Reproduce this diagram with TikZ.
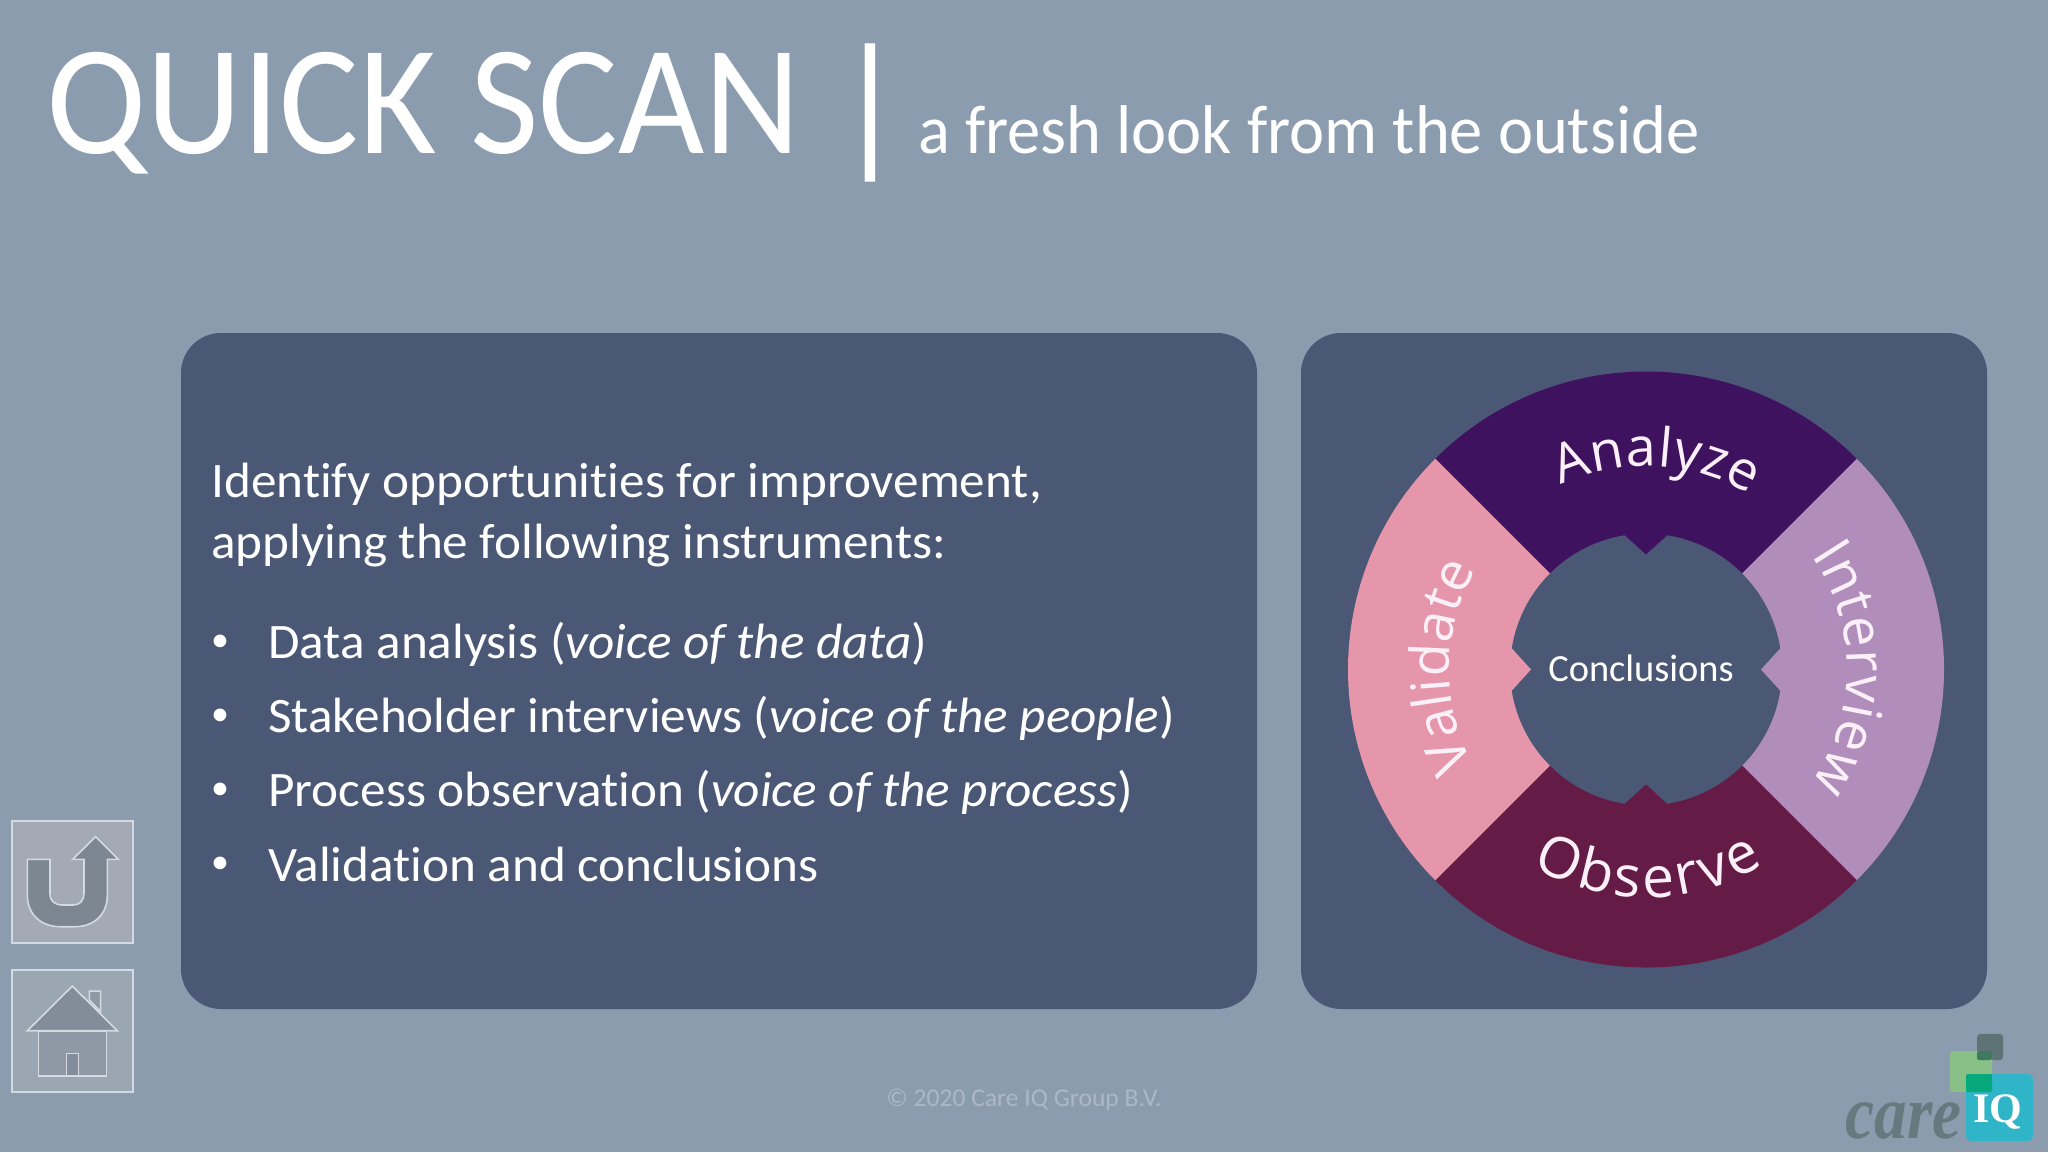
\documentclass[tikz,border=0pt]{standalone}
\usepackage{fontspec}
\setmainfont[Ligatures=NoCommon]{Carlito}
\newfontfamily\wheelfont{Open Sans}
\newfontfamily\logofont{Liberation Serif}
\usetikzlibrary{decorations.text}
\definecolor{bgc}{HTML}{8C9CAF}
\definecolor{panelc}{HTML}{4A5875}
\definecolor{purplec}{HTML}{3F1260}
\definecolor{lilacc}{HTML}{B08DBB}
\definecolor{pinkc}{HTML}{E596AB}
\definecolor{maroonc}{HTML}{641C46}
\definecolor{navline}{HTML}{D3DAE1}
\definecolor{ringtext}{HTML}{FBF0F8}
\definecolor{uarrow}{HTML}{7D8792}
\definecolor{roofc}{HTML}{838D99}
\definecolor{bodyc}{HTML}{8F99A6}
\definecolor{backbox}{HTML}{A3AAB3}
\definecolor{homebox}{HTML}{9BA6B3}
\newcommand{\fs}[1]{\fontsize{#1}{#1}\selectfont}
\tikzset{
  x=0.5pt,y=-0.5pt,
  lefttext/.style={anchor=base west,inner sep=0pt,text=white,font=\fs{24.8},transform shape,xscale=1.032},
  bullettext/.style={anchor=base,inner sep=0pt,text=white,font=\fs{18}},
  panel/.style={fill=panelc,rounded corners=20pt},
  navbox/.style={draw=navline,line width=1pt},
  navshape/.style={draw=navline,line width=0.8pt,line join=miter},
  ringlabel/.style n args={3}{decorate,decoration={text effects along path,text={#1},text align=center,
    text effects/.cd,text along path,
    characters={text=ringtext,font=\wheelfont\fs{#2}},
    character widths={font=\wheelfont\fs{#2},inner xsep=#3}}},
}
\begin{document}
\begin{tikzpicture}
\useasboundingbox (0,0) rectangle (2048,1152);
\fill[bgc] (0,0) rectangle (2048,1152);
% title
\node[anchor=base west,inner sep=0pt,text=white,font=\fs{78},transform shape,xscale=0.955] (title) at (46,153) {QUICK SCAN};
\node[anchor=base,inner sep=0pt,text=white,font=\fs{78}] (bar) at (870,156) {|};
\node[anchor=base west,inner sep=0pt,text=white,font=\fs{34.5},transform shape,xscale=0.963] (subtitle) at (918,153) {a fresh look from the outside};
% panels
\path[panel] (181,333) rectangle (1257,1009);
\path[panel] (1301,333) rectangle (1987,1009);
% left text
\node[lefttext] (intro1) at (211,497) {Identify opportunities for improvement,};
\node[lefttext] (intro2) at (211,558) {applying the following instruments:};
\node[bullettext] (b1) at (220,651) {•};
\node[bullettext] (b2) at (220,725) {•};
\node[bullettext] (b3) at (220,799) {•};
\node[bullettext] (b4) at (220,873) {•};
\node[lefttext] (t1) at (268,658) {Data analysis (\textit{voice of the data})};
\node[lefttext] (t2) at (268,732) {Stakeholder interviews (\textit{voice of the people})};
\node[lefttext] (t3) at (268,806) {Process observation (\textit{voice of the process})};
\node[lefttext] (t4) at (268,881) {Validation and conclusions};
% wheel
\begin{scope}[shift={(1646,669.5)},x=0.5pt,y=0.5pt]
\fill[purplec] (45:298) arc[start angle=45,end angle=135,radius=298] -- (135:136)
  arc[start angle=135,end angle=99,radius=136] -- (90:115) -- (81:136) arc[start angle=81,end angle=45,radius=136] -- cycle;
\fill[lilacc] (-45:298) arc[start angle=-45,end angle=45,radius=298] -- (45:136)
  arc[start angle=45,end angle=9,radius=136] -- (0:115) -- (-9:136) arc[start angle=-9,end angle=-45,radius=136] -- cycle;
\fill[maroonc] (225:298) arc[start angle=225,end angle=315,radius=298] -- (315:136)
  arc[start angle=315,end angle=279,radius=136] -- (270:115) -- (261:136) arc[start angle=261,end angle=225,radius=136] -- cycle;
\fill[pinkc] (135:298) arc[start angle=135,end angle=225,radius=298] -- (225:136)
  arc[start angle=225,end angle=189,radius=136] -- (180:115) -- (171:136) arc[start angle=171,end angle=135,radius=136] -- cycle;
\path[ringlabel={Analyze}{27}{0.1pt}] (137:203) arc[start angle=137,end angle=37,radius=203];
\path[ringlabel={Interview}{27.5}{0.2pt}] (56:201) arc[start angle=56,end angle=-56,radius=201];
\path[ringlabel={Observe}{28.5}{0.9pt}] (220.5:228) arc[start angle=220.5,end angle=320.5,radius=228];
\path[ringlabel={Validate}{27}{0.05pt}] (231.5:197) arc[start angle=231.5,end angle=126.5,radius=197];
\end{scope}
\node[anchor=base,inner sep=0pt,text=white,font=\fs{19.2}] (concl) at (1641,681) {Conclusions};
% copyright
\node[anchor=base,inner sep=0pt,text=bgc!72!white,font=\fs{12.8}] (copy) at (1024,1106) {© 2020 Care IQ Group B.V.};
% nav: back
\begin{scope}[shift={(0,800)},x=0.1667pt,y=-0.1667pt]
\path[navbox,fill=backbox] (35,63) rectangle (400,428);
\path[navshape,fill=uarrow] (82,178) -- (150,178) -- (150,280) .. controls (150,305) and (165,315) .. (190,315) -- (220,315)
  .. controls (240,315) and (252,300) .. (252,280) -- (252,178) -- (218,178) -- (287,110) -- (355,178) -- (322,178) -- (322,285)
  .. controls (322,345) and (280,380) .. (225,380) -- (180,380) .. controls (125,380) and (82,345) .. (82,285) -- cycle;
\end{scope}
% nav: home
\begin{scope}[shift={(0,800)},x=0.1667pt,y=-0.1667pt]
\path[navbox,fill=homebox] (35,510) rectangle (400,875);
\path[navshape,fill=bodyc] (268,600) -- (268,573) -- (302,573) -- (302,635) -- cycle;
\path[navshape,fill=bodyc] (115,692) rectangle (320,828);
\path[navshape,fill=roofc] (200,760) rectangle (235,828);
\path[navshape,fill=roofc] (82,692) -- (217,558) -- (352,692) -- cycle;
\end{scope}
% logo
\fill[fill={rgb,255:red,94;green,115;blue,118},rounded corners=1.5pt] (1977,1034) rectangle (2003,1060);
\fill[fill={rgb,255:red,136;green,192;blue,136},rounded corners=1.5pt] (1950,1051) rectangle (1992,1092);
\fill[fill={rgb,255:red,62;green,122;blue,96},rounded corners=1pt] (1977,1051) rectangle (1992,1060);
\fill[fill={rgb,255:red,48;green,180;blue,200},rounded corners=2.5pt] (1966,1074) rectangle (2033,1141);
\fill[fill={rgb,255:red,6;green,168;blue,124},rounded corners=1pt] (1966,1074) rectangle (1992,1092);
\node[anchor=base,inner sep=0pt,text=white,font=\logofont\bfseries\fs{21}] (iq) at (1998,1122) {IQ};
\node[anchor=base east,inner sep=0pt,text={rgb,255:red,102;green,121;blue,126},font=\logofont\bfseries\itshape\fs{38},transform shape,xscale=0.86] (care) at (1962,1138) {care};
\end{tikzpicture}
\end{document}
